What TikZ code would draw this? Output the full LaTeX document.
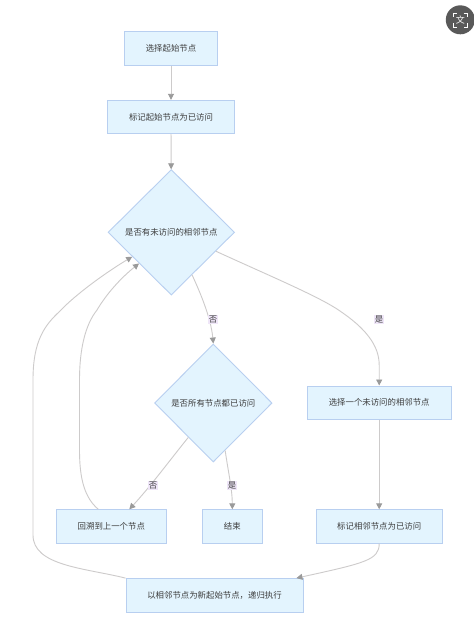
\documentclass[tikz,border=0pt]{standalone}
\usepackage{fontspec}
\setmainfont{Noto Sans CJK SC}
\usetikzlibrary{shapes.geometric,arrows.meta}
\definecolor{boxfill}{HTML}{E3F4FE}
\definecolor{boxline}{HTML}{B8CFF0}
\definecolor{edgeline}{HTML}{CDCBCB}
\definecolor{tipcol}{HTML}{9A9A9A}
\definecolor{labelbg}{HTML}{EFE6F8}
\definecolor{txt}{HTML}{3C3C3C}
\tikzset{
  x=1pt,y=-1pt,
  flowbox/.style={draw=boxline,fill=boxfill,line width=0.9pt,text=txt,font=\fontsize{8.4pt}{10pt}\selectfont,inner sep=0pt,minimum height=33.5pt},
  decision/.style={diamond,aspect=1,draw=boxline,fill=boxfill,line width=0.9pt,text=txt,font=\fontsize{8.4pt}{10pt}\selectfont,inner sep=0pt},
  flow/.style={draw=edgeline,line width=0.9pt,-{Triangle[length=6pt,width=6pt,color=tipcol,fill=tipcol]}},
  edgelabel/.style={fill=labelbg,text=txt,font=\fontsize{8.4pt}{10pt}\selectfont,inner sep=0.5pt}
}
\begin{document}
\begin{tikzpicture}
\useasboundingbox (0,0) rectangle (474,622);
\fill[white] (0,0) rectangle (474,622);
\node[flowbox,minimum width=93pt] (a) at (171,48.5) {选择起始节点};
\node[flowbox,minimum width=126.5pt] (b) at (171,117) {标记起始节点为已访问};
\node[decision,minimum width=126.5pt,minimum height=125.5pt] (d1) at (171.3,232.3) {是否有未访问的相邻节点};
\node[decision,minimum width=117.5pt,minimum height=118pt] (d2) at (213.3,403) {是否所有节点都已访问};
\node[flowbox,minimum width=143.5pt] (c) at (379.2,402.7) {选择一个未访问的相邻节点};
\node[flowbox,minimum width=109.5pt] (f) at (111.3,526.5) {回溯到上一个节点};
\node[flowbox,minimum width=59.5pt] (e) at (232.3,526.5) {结束};
\node[flowbox,minimum width=126.5pt] (g) at (379.2,526.5) {标记相邻节点为已访问};
\node[flowbox,minimum width=177pt] (h) at (214.5,595.3) {以相邻节点为新起始节点，递归执行};

\draw[flow] (a) -- (b);
\draw[flow] (b) -- (d1);
\draw[flow] (d1.-64.5) .. controls (200,292) and (211,318) .. (d2.north);
\draw[flow] (d1.-23.5) .. controls (270,276) and (320,297) .. (340,311) .. controls (365,328) and (379.2,345) .. (379.2,365) -- (c.north);
\draw[flow] (d2.234.5) .. controls (170,460) and (150,487) .. ([xshift=18pt]f.north);
\draw[flow] (d2.-76) .. controls (228,470) and (232.3,490) .. (e.north);
\draw[flow] (c) -- (g);
\draw[flow] (g.south) .. controls (379.2,560) and (365,563) .. ([xshift=-7pt]h.north east);
\draw[flow] (h.north west) .. controls (85,568) and (33,566) .. (33,535) -- (33,380) .. controls (33,340) and (45,325) .. (60,311) .. controls (75,295) and (105,273) .. (d1.212.3);
\draw[flow] ([xshift=-13pt]f.north) .. controls (85,498) and (79.5,480) .. (79.5,450) -- (79.5,380) .. controls (79.5,350) and (85,325) .. (97,310) .. controls (107,293) and (122,277) .. (d1.224);

\node[edgelabel] (l1) at (213,319.5) {否};
\node[edgelabel] (l2) at (379,319.5) {是};
\node[edgelabel] (l3) at (153,485.5) {否};
\node[edgelabel] (l4) at (232,485.5) {是};

\node[circle,fill=black!65,minimum size=29pt,inner sep=0pt,text=white,font=\fontsize{9pt}{10pt}\selectfont] (icon) at (460.3,19.8) {文};
\draw[white,line width=0.9pt] (453,17) -- (453,13) -- (457,13) (463.5,13) -- (467.5,13) -- (467.5,17) (467.5,23) -- (467.5,27) -- (463.5,27) (457,27) -- (453,27) -- (453,23);
\end{tikzpicture}
\end{document}
